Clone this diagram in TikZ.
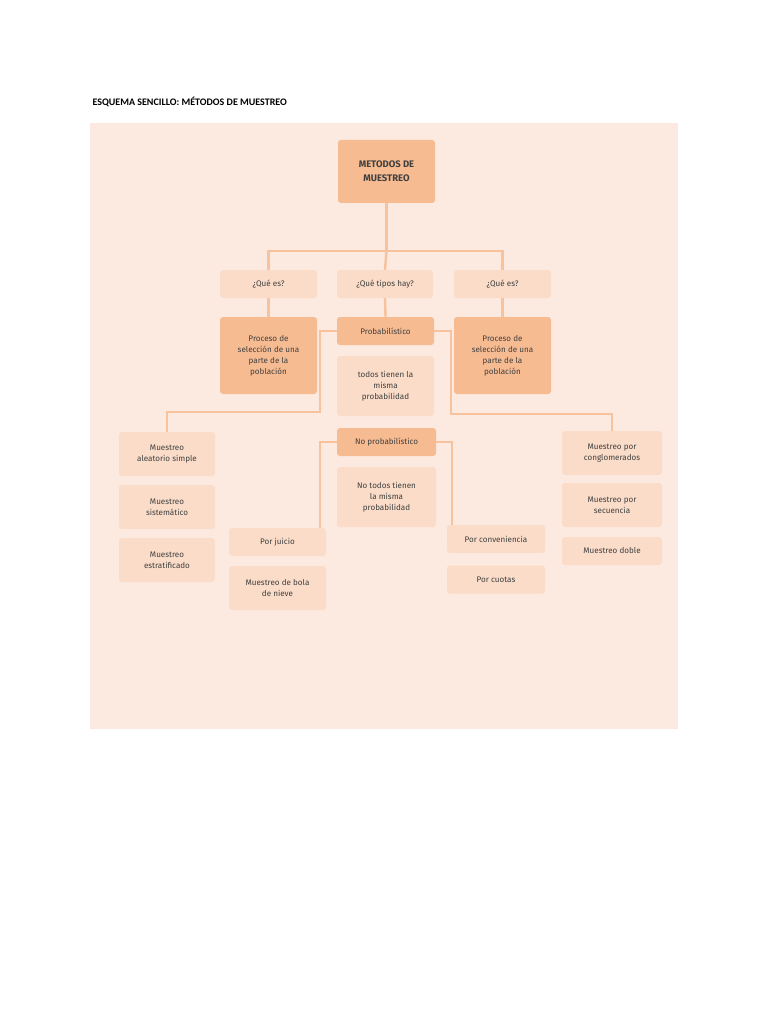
\documentclass[tikz,border=0pt]{standalone}
\usepackage{fontspec}
\setmainfont{Carlito}
\newfontfamily\boxfont{Fira Sans}[Scale=0.95]
\begin{document}
\begin{tikzpicture}[x=1pt,y=-1pt,
  lc/.style={draw=lineor,line width=2.4pt},
  bx/.style={rounded corners=3pt,align=center,font=\boxfont\fontsize{8.5}{11}\selectfont,text=black!75,inner sep=0pt},
  lt/.style={bx,fill=lightor},
  md/.style={bx,fill=medor}]
\definecolor{panel}{HTML}{FCE9DF}
\definecolor{lightor}{HTML}{FADCC8}
\definecolor{medor}{HTML}{F7BB92}
\definecolor{lineor}{HTML}{F8C29C}
\useasboundingbox (0,0) rectangle (768,1024);
\fill[white] (0,0) rectangle (768,1024);
\fill[panel] (90,123) rectangle (678,729);
\node[anchor=west,font=\bfseries\fontsize{10}{12}\selectfont] (title) at (89,102) {ESQUEMA SENCILLO: MÉTODOS DE MUESTREO};
% nodes
\node[md,minimum width=97,minimum height=63,font=\boxfont\bfseries\fontsize{10}{14}\selectfont] (main) at (386.5,171.5) {METODOS DE\\MUESTREO};
\node[lt,minimum width=97,minimum height=28] (q1) at (268.5,284) {¿Qué es?};
\node[lt,minimum width=96,minimum height=28] (q2) at (385,284) {¿Qué tipos hay?};
\node[lt,minimum width=97,minimum height=28] (q3) at (502.5,284) {¿Qué es?};
\node[md,minimum width=97,minimum height=77] (p1) at (268.5,355.5) {Proceso de\\selección de una\\parte de la\\población};
\node[md,minimum width=97,minimum height=77] (p3) at (502.5,355.5) {Proceso de\\selección de una\\parte de la\\población};
\node[md,minimum width=97,minimum height=28] (prob) at (385.5,331) {Probabilístico};
\node[lt,minimum width=97,minimum height=60] (todos) at (385.5,386) {todos tienen la\\misma\\probabilidad};
\node[md,minimum width=99,minimum height=28] (noprob) at (386.5,442) {No probabilístico};
\node[lt,minimum width=99,minimum height=60] (notodos) at (386.5,497) {No todos tienen\\la misma\\probabilidad};
\node[lt,minimum width=96,minimum height=44] (l1) at (167,454) {Muestreo\\aleatorio simple};
\node[lt,minimum width=96,minimum height=44] (l2) at (167,507) {Muestreo\\sistemático};
\node[lt,minimum width=96,minimum height=44] (l3) at (167,560) {Muestreo\\estratificado};
\node[lt,minimum width=100,minimum height=44] (r1) at (612,453) {Muestreo por\\conglomerados};
\node[lt,minimum width=100,minimum height=44] (r2) at (612,505) {Muestreo por\\secuencia};
\node[lt,minimum width=100,minimum height=28] (r3) at (612,551) {Muestreo doble};
\node[lt,minimum width=97,minimum height=28] (juicio) at (277.5,542) {Por juicio};
\node[lt,minimum width=97,minimum height=44] (bola) at (277.5,588) {Muestreo de bola\\de nieve};
\node[lt,minimum width=98,minimum height=28] (conv) at (496,539) {Por conveniencia};
\node[lt,minimum width=98,minimum height=28] (cuotas) at (496,579.5) {Por cuotas};
% connectors
\coordinate (hub) at (main.south |- 0,251);
\draw[lc] (main.south) -- (hub);
\draw[lc] (q1.north) |- (hub) -| (q3.north);
\draw[lc] (hub) -- (q2.north);
\draw[lc] (q1.south) -- (p1.north);
\draw[lc] (q2.south) -- (prob.north);
\draw[lc] (q3.south) -- (p3.north);
\draw[lc] (prob.west) -- (320,331) -- (320,412) -| (l1.north);
\draw[lc] (prob.east) -- (451,331) -- (451,414) -| (r1.north);
\draw[lc] (noprob.west) -| (juicio.north -| 320,0) coordinate (jt);
\draw[lc] (noprob.east) -| (conv.north -| 452,0);
\end{tikzpicture}
\end{document}
